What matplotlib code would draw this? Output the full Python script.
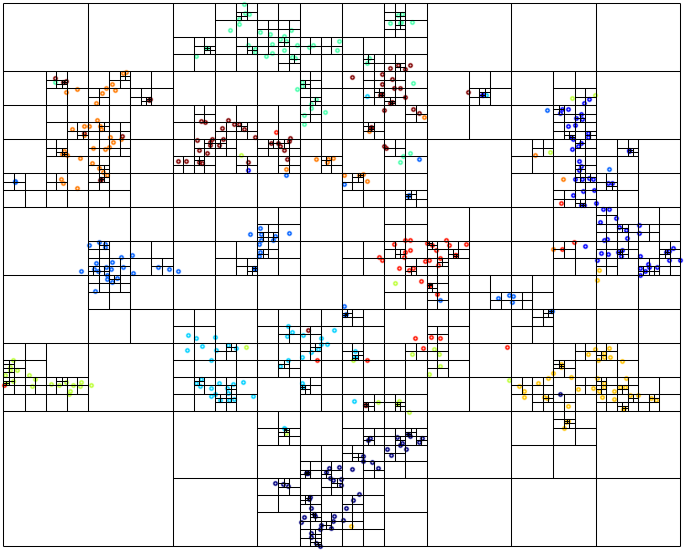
#!/usr/bin/env python
"""
Quadtree over a 2d embedding, ten classes coloured with jet
"""
import matplotlib
matplotlib.use("Agg")
import matplotlib.pyplot as plt

xmin, xmax = 3.4, 680.4
ymin, ymax = 3.4, 546.3
capacity = 1
max_depth = 9

class0 = [(370.3,438),(368,440),(396.7,437.3),(407.7,434),(410.3,436),(422,438),(419.3,442.3),(401.7,442.7),(400,444.7),(406,449),
    (386.7,449),(391,454.7),(363,456),(363,460.7),(372.3,462),(377.7,468),(329.3,468),(339.3,467),(352,469),(325.7,471.7),
    (307.3,473.3),(305.6,473),(308.3,472.7),(329.7,478),(333,479.7),(341,478.7),(341,485),(275,483),(282.7,483.7),(287.7,486),
    (358.7,494.3),(353,500),(310,497.3),(309,499),(310.7,507.7),(346,508),(304.3,516.7),(314,514.3),(314.7,516.3),(334,516),
    (333.3,521),(343,519.7),(301,522.3),(321,524.7),(320.3,528.7),(331,528),(310.7,533),(311,537),(316,543),(319.7,545.5),(560,394)]
class1 = [(481.7,94.7),(482.7,95.3),(588.7,99.3),(583.7,103),(562.3,108.7),(568,109),(560.3,112.7),(580.7,114),(576,118),(582,118.7),
    (574.7,124.7),(568,125.7),(588.3,133.3),(587.7,137.3),(571,137),(572.7,139),(581,142.7),(577.7,146.3),(572.3,149),(629.3,149.7),
    (629,151),(578.7,161.3),(581,166),(578.7,170),(589,178),(574.7,179.3),(582,179.3),(593,179.3),(607.7,183),(611.7,183),(572.7,195),
    (582.7,191),(593.7,189.7),(581,204.7),(584,205.3),(596,202.7),(603,209),(608.7,209),(616.3,218),(600.3,222.3),(618.7,226.7),
    (625.7,230.3),(638.7,225.3),(639,233),(626.7,238),(604,240),(607,239),(585,246.3),(601,253),(608,254),(618.3,251.7),
    (621.7,249.7),(620.7,256),(597,260),(640,256.3),(673,248),(669,251),(666,251.7),(668.7,259.7),(680,260),(648.3,264),
    (649,267),(640,268.3),(645.3,271),(656.7,267.3),(640,275),(248,170)]
class2 = [(15.3,181),(14.6,181.8),(286,174.7),(419,158.7),(343.7,184),(547,110.3),(609,169),(89.3,245),(98.7,242),(105.3,244),(105.3,247.3),
    (120.7,257.3),(132,255),(111.7,262),(96,263),(105.7,267),(122.7,267),(94,268.7),(111,269.3),(98,271.3),(81,271),
    (133,272.7),(158,267),(169,269),(177.7,271.3),(106.7,274.7),(107,279),(116.7,277.7),(112,282.3),(95,291),(259.7,228),
    (250.3,234),(261,233.7),(289,232.7),(274.7,236.3),(272.7,239.7),(261.3,240),(259,243.7),(260,251.7),(259,255.7),(254.7,268.7),
    (253.6,268.3),(343.7,306.3),(346,313.7),(345.2,315),(440,299.7),(408,195.7),(408.9,195),(498.3,298),(509,295),(513,295.7),(512,302),(552.3,310.7),(551.2,311.4)]
class3 = [(366.7,95.7),(485.7,94.7),(188,335),(195.7,337.7),(215,337),(201.7,346),(228,345),(187.3,350),(216,349.7),(211,359.7),
    (288,326),(291.7,332),(286.7,336.3),(302.7,335),(333.7,329.7),(320.7,337.7),(320.7,344.3),(327,344.3),(317.7,349.3),(310.7,352),
    (302.3,357),(287.7,360),(280,365.7),(235.7,348),(355.3,351),(354.7,357),(355.2,358),(196,383),(201.3,379.3),(200,386),(211,387.7),
    (219,383),(226.7,388.3),(227.7,392.7),(215,393.7),(211,395.7),(220,400),(228.7,400),(232.7,384),(243,381.7),(252.7,396.3),
    (234,399.3),(301.7,383),(302.7,387.3),(303.4,386.4),(354,401),(284,428),(285.3,429.3)]
class4 = [(54.7,82.3),(230,30.3),(206,48.3),(206.8,47.6),(196.3,56),(243.7,4),(244.7,13.3),(248.7,14.3),(239,19),(239,23.7),(260,32),
    (270,33.7),(284,35.7),(290.7,30),(280.3,39.3),(286,40.7),(271.7,43.7),(297,44.7),(248,44.7),(255.3,48.7),(255.3,52.3),
    (271.7,53.3),(284,50),(266,56),(291.7,56.7),(295.3,58),(309,46.7),(313,45),(339.3,41.3),(337,49.7),(398,15.3),
    (402,14.3),(390.3,23),(400,23),(401,22.4),(411.7,22.3),(369.3,58),(367,62.7),(301.7,81.7),(301.7,86),(297,88.7),(316,99.3),
    (311.3,104),(311.3,107.7),(325,112),(303.7,115),(303.7,124.3),(413,83),(410,153),(402.7,155.7),(400,162)]
class5 = [(241,154.7),(594.7,95),(571.7,98),(549.7,152),(12.7,360.3),(10,367.3),(395,283),(246,347.3),(434,349),(411.7,354),
    (439,354),(440,365.7),(353,359.7),(10,370),(16.7,370),(4.7,375),(29,374.7),(35,379.3),(13,381),(6.3,382.7),
    (32,386),(50.7,383.7),(58.7,384.7),(65.7,382.3),(73.3,385),(80.7,382),(80,386.3),(91,385.3),(69,393.7),(70,391),
    (377.7,401.7),(399.3,401),(397.4,404.4),(398,403.2),(409.3,411.7),(286.3,432.7),(429,374.3),(508.7,379.7)]
class6 = [(598.7,270.3),(597,280),(594.7,348.7),(609,348.3),(588,354),(604,353.3),(604,356.7),(609.7,356.7),(598,359.7),(622,360.7),
    (561,364.3),(350.7,526.3),(553,372.7),(547.7,378.3),(571,377),(519,386),(537.7,382.7),(524.3,390.7),(524,396.7),(544.3,396.7),
    (546.7,398.3),(568,406.3),(567.7,421),(566,421.6),(563.7,428),(577.7,389),(593,388),(597.3,378.3),(603.7,382.7),(603.7,387),(598.7,391.3),
    (614.3,391),(620,387.3),(625,387.3),(626,378),(602.3,397),(613.7,399.3),(630.3,395.3),(637.7,395),(651.3,398.3),(655.7,399.7),
    (624.3,408),(623.4,408.8),(561,366.7)]
class7 = [(122.7,73.3),(125.7,72),(111.7,84),(105.7,88),(115.3,90),(101.7,93),(95.7,103),(77.3,89),(66.3,91.7),(96.7,120),
    (84,126),(89,126),(100,125.7),(101,129),(71.7,128.7),(84.3,135),(109.7,136.7),(113,141.7),(108.7,146.7),(104.7,149),
    (93,148.3),(121,139.3),(64.3,150.7),(62.3,154.3),(64.3,154.3),(67.3,154.7),(80,158),(91.7,163),(99,168),(102.7,172),
    (106.7,175),(60.7,179),(63,182.7),(76.7,188.3),(423.7,116.7),(368.7,131.3),(316,159),(328.3,159.3),(333.3,158.3),(327,162.3),
    (286,169),(344,175),(362.7,174),(358.7,175.3),(366.7,181),(535,154.7),(562.7,179),(553,249)]
class8 = [(276,132),(393.7,243.7),(404.7,240),(409.7,239.7),(409.7,249.7),(405,252),(404,256.7),(427,243.3),(431.7,244.7),(435.7,249.7),
    (446,240),(449,244.7),(454.7,255),(440,258),(428.7,260),(425,261.3),(438,264.7),(378.7,257.3),(382,260.3),(399,268.3),
    (409,269.7),(413,268.3),(421,281.3),(430.3,285.3),(429.2,284.7),(436.7,294),(415,337.7),(430.7,337),(439.7,338.3),(423,347.7),
    (367,360),(317,360),(561,203),(562,249),(466,244),(456,255),(574.3,242),(507,347),(3.6,385)]
class9 = [(54.7,78),(66,81),(62.7,82.3),(150,99.3),(148.7,99.8),(84,133.3),(122,136.3),(101,179.3),(100.2,180),(201,120.7),(204.7,122),(228,120),
    (222,128.3),(212,138.7),(223,139.3),(197,140),(210,142.3),(209.7,145.3),(219.3,145),(199,150),(207,153),(178,160.7),
    (186,161),(199,162),(202,162.7),(234,124),(239,123.7),(244,128.7),(255.3,137.3),(271.3,142.7),(278,142.7),(280,146.3),
    (284,150.3),(289.7,137.7),(289,140.7),(287,158.7),(248,162.3),(352,77),(390.3,68.3),(398.3,65.3),(410.3,65),(405,69),
    (382,73.7),(392,79.3),(382,84),(393.7,88),(400,88),(379.7,94.7),(382.3,93.7),(405,97),(390.3,103.3),(392.3,102.3),
    (383.7,110),(413.3,109),(418.7,113),(370.7,128),(371.4,127.2),(383.7,146),(386,148),(308,329.7),(468,92),(366,404.7),(365,405.4)]

classes = [class0,class1,class2,class3,class4,class5,class6,class7,class8,class9]
# where each class sits on the jet map
class_pos = [0.0,0.11,0.22,0.33,0.44,0.58,0.70,0.78,0.89,1.0]

all_pts = [p for c in classes for p in c]
hlines = []
vlines = []


def split(pts, x0, x1, y0, y1, depth):
    if len(pts) <= capacity or depth >= max_depth:
        return
    xm = (x0 + x1) / 2.0
    ym = (y0 + y1) / 2.0
    vlines.append((xm, y0, y1))
    hlines.append((ym, x0, x1))
    split([p for p in pts if p[0] < xm and p[1] < ym], x0, xm, y0, ym, depth + 1)
    split([p for p in pts if p[0] >= xm and p[1] < ym], xm, x1, y0, ym, depth + 1)
    split([p for p in pts if p[0] < xm and p[1] >= ym], x0, xm, ym, y1, depth + 1)
    split([p for p in pts if p[0] >= xm and p[1] >= ym], xm, x1, ym, y1, depth + 1)


split(all_pts, xmin, xmax, ymin, ymax, 0)

fig = plt.figure(figsize=(6.86, 5.51), dpi=100)
ax = fig.add_axes([0, 0, 1, 1])
ax.set_xlim(0, 686)
ax.set_ylim(551, 0)
ax.axis("off")

for c, pos in zip(classes, class_pos):
    xs = [p[0] for p in c]
    ys = [p[1] for p in c]
    # pale halo under the ring, the original marks look slightly blurred
    ax.plot(xs, ys, "o", color=plt.cm.jet(pos), alpha=0.25, ms=4.2, mew=0, zorder=1, clip_on=False)
    ax.plot(xs, ys, "o", mfc="none", mec=plt.cm.jet(pos), ms=2.3, mew=0.9, zorder=2, clip_on=False)

ax.vlines([v[0] for v in vlines], [v[1] for v in vlines], [v[2] for v in vlines], color="k", lw=0.75, zorder=3)
ax.hlines([h[0] for h in hlines], [h[1] for h in hlines], [h[2] for h in hlines], color="k", lw=0.75, zorder=3)
ax.vlines([xmin, xmax], ymin, ymax, color="k", lw=0.75, zorder=3)
ax.hlines([ymin, ymax], xmin, xmax, color="k", lw=0.75, zorder=3)

plt.savefig("out.png", dpi=100)
plt.close()
